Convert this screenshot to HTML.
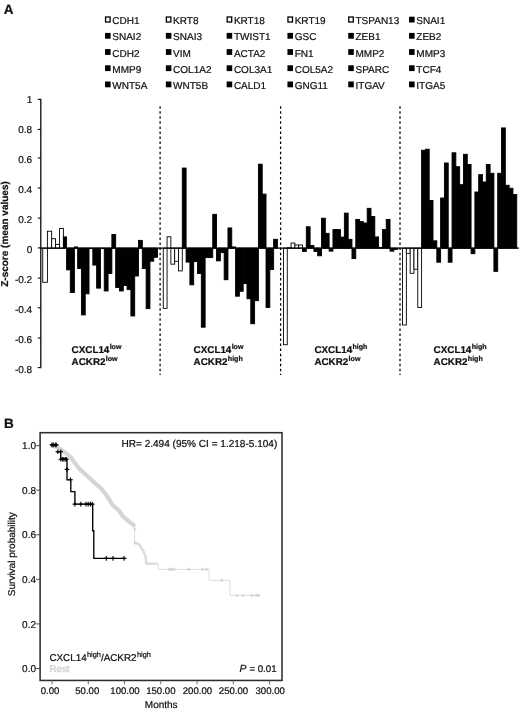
<!DOCTYPE html><html><head><meta charset="utf-8"><title>Figure</title>
<style>html,body{margin:0;padding:0;background:#fff}svg{display:block}text{text-rendering:geometricPrecision;font-family:"Liberation Sans",sans-serif;fill:#111;stroke:#111;stroke-width:0.22px}</style></head><body>
<svg width="520" height="711" viewBox="0 0 520 711">
<rect width="520" height="711" fill="#fff"/>
<text x="3.8" y="14.3" font-size="13.5" font-weight="bold">A</text>
<text x="3.9" y="427.5" font-size="13.5" font-weight="bold">B</text>
<rect x="105.55" y="17.00" width="4.55" height="5" fill="#fff" stroke="#000" stroke-width="1.3"/>
<text x="112.30" y="24.20" font-size="10">CDH1</text>
<rect x="166.35" y="17.00" width="4.55" height="5" fill="#fff" stroke="#000" stroke-width="1.3"/>
<text x="173.10" y="24.20" font-size="10">KRT8</text>
<rect x="227.15" y="17.00" width="4.55" height="5" fill="#fff" stroke="#000" stroke-width="1.3"/>
<text x="233.90" y="24.20" font-size="10">KRT18</text>
<rect x="287.95" y="17.00" width="4.55" height="5" fill="#fff" stroke="#000" stroke-width="1.3"/>
<text x="294.70" y="24.20" font-size="10">KRT19</text>
<rect x="348.75" y="17.00" width="4.55" height="5" fill="#fff" stroke="#000" stroke-width="1.3"/>
<text x="355.50" y="24.20" font-size="10">TSPAN13</text>
<rect x="409.05" y="16.70" width="5.55" height="5.8" fill="#000"/>
<text x="416.30" y="24.20" font-size="10">SNAI1</text>
<rect x="105.05" y="32.90" width="5.55" height="5.8" fill="#000"/>
<text x="112.30" y="40.40" font-size="10">SNAI2</text>
<rect x="165.85" y="32.90" width="5.55" height="5.8" fill="#000"/>
<text x="173.10" y="40.40" font-size="10">SNAI3</text>
<rect x="226.65" y="32.90" width="5.55" height="5.8" fill="#000"/>
<text x="233.90" y="40.40" font-size="10">TWIST1</text>
<rect x="287.45" y="32.90" width="5.55" height="5.8" fill="#000"/>
<text x="294.70" y="40.40" font-size="10">GSC</text>
<rect x="348.25" y="32.90" width="5.55" height="5.8" fill="#000"/>
<text x="355.50" y="40.40" font-size="10">ZEB1</text>
<rect x="409.05" y="32.90" width="5.55" height="5.8" fill="#000"/>
<text x="416.30" y="40.40" font-size="10">ZEB2</text>
<rect x="105.05" y="49.10" width="5.55" height="5.8" fill="#000"/>
<text x="112.30" y="56.60" font-size="10">CDH2</text>
<rect x="165.85" y="49.10" width="5.55" height="5.8" fill="#000"/>
<text x="173.10" y="56.60" font-size="10">VIM</text>
<rect x="226.65" y="49.10" width="5.55" height="5.8" fill="#000"/>
<text x="233.90" y="56.60" font-size="10">ACTA2</text>
<rect x="287.45" y="49.10" width="5.55" height="5.8" fill="#000"/>
<text x="294.70" y="56.60" font-size="10">FN1</text>
<rect x="348.25" y="49.10" width="5.55" height="5.8" fill="#000"/>
<text x="355.50" y="56.60" font-size="10">MMP2</text>
<rect x="409.05" y="49.10" width="5.55" height="5.8" fill="#000"/>
<text x="416.30" y="56.60" font-size="10">MMP3</text>
<rect x="105.05" y="65.30" width="5.55" height="5.8" fill="#000"/>
<text x="112.30" y="72.80" font-size="10">MMP9</text>
<rect x="165.85" y="65.30" width="5.55" height="5.8" fill="#000"/>
<text x="173.10" y="72.80" font-size="10">COL1A2</text>
<rect x="226.65" y="65.30" width="5.55" height="5.8" fill="#000"/>
<text x="233.90" y="72.80" font-size="10">COL3A1</text>
<rect x="287.45" y="65.30" width="5.55" height="5.8" fill="#000"/>
<text x="294.70" y="72.80" font-size="10">COL5A2</text>
<rect x="348.25" y="65.30" width="5.55" height="5.8" fill="#000"/>
<text x="355.50" y="72.80" font-size="10">SPARC</text>
<rect x="409.05" y="65.30" width="5.55" height="5.8" fill="#000"/>
<text x="416.30" y="72.80" font-size="10">TCF4</text>
<rect x="105.05" y="81.50" width="5.55" height="5.8" fill="#000"/>
<text x="112.30" y="89.00" font-size="10">WNT5A</text>
<rect x="165.85" y="81.50" width="5.55" height="5.8" fill="#000"/>
<text x="173.10" y="89.00" font-size="10">WNT5B</text>
<rect x="226.65" y="81.50" width="5.55" height="5.8" fill="#000"/>
<text x="233.90" y="89.00" font-size="10">CALD1</text>
<rect x="287.45" y="81.50" width="5.55" height="5.8" fill="#000"/>
<text x="294.70" y="89.00" font-size="10">GNG11</text>
<rect x="348.25" y="81.50" width="5.55" height="5.8" fill="#000"/>
<text x="355.50" y="89.00" font-size="10">ITGAV</text>
<rect x="409.05" y="81.50" width="5.55" height="5.8" fill="#000"/>
<text x="416.30" y="89.00" font-size="10">ITGA5</text>
<g stroke="#000" stroke-width="0.9">
<rect x="42.75" y="248.15" width="4.661" height="34.13" fill="#fff"/>
<rect x="47.41" y="231.23" width="4.256" height="16.92" fill="#fff"/>
<rect x="51.67" y="238.72" width="3.906" height="9.43" fill="#fff"/>
<rect x="55.57" y="244.41" width="4.006" height="3.74" fill="#fff"/>
<rect x="59.58" y="228.54" width="3.806" height="19.61" fill="#fff"/>
<rect x="63.39" y="236.92" width="3.206" height="11.23" fill="#000"/>
<rect x="66.59" y="248.15" width="3.706" height="21.71" fill="#000"/>
<rect x="70.30" y="248.15" width="4.106" height="44.31" fill="#000"/>
<rect x="74.41" y="246.95" width="3.256" height="1.20" fill="#000"/>
<rect x="77.66" y="248.15" width="3.756" height="20.36" fill="#000"/>
<rect x="81.42" y="248.15" width="3.806" height="66.77" fill="#000"/>
<rect x="85.22" y="248.15" width="3.806" height="45.66" fill="#000"/>
<rect x="89.03" y="248.15" width="3.806" height="0.45" fill="#000"/>
<rect x="92.84" y="248.15" width="3.806" height="16.92" fill="#000"/>
<rect x="96.64" y="248.15" width="3.806" height="39.97" fill="#000"/>
<rect x="100.45" y="248.15" width="3.806" height="0.45" fill="#000"/>
<rect x="104.26" y="248.15" width="3.806" height="42.81" fill="#000"/>
<rect x="108.06" y="248.15" width="3.806" height="25.30" fill="#000"/>
<rect x="111.87" y="234.53" width="3.806" height="13.62" fill="#000"/>
<rect x="115.68" y="248.15" width="3.806" height="39.37" fill="#000"/>
<rect x="119.48" y="248.15" width="3.806" height="42.81" fill="#000"/>
<rect x="123.29" y="248.15" width="3.806" height="37.28" fill="#000"/>
<rect x="127.09" y="248.15" width="3.806" height="41.47" fill="#000"/>
<rect x="130.90" y="248.15" width="3.806" height="67.81" fill="#000"/>
<rect x="134.71" y="248.15" width="3.806" height="27.84" fill="#000"/>
<rect x="138.51" y="240.37" width="3.806" height="7.78" fill="#000"/>
<rect x="142.32" y="248.15" width="3.806" height="20.36" fill="#000"/>
<rect x="146.13" y="248.15" width="3.806" height="60.48" fill="#000"/>
<rect x="149.93" y="248.15" width="3.806" height="13.02" fill="#000"/>
<rect x="153.74" y="248.15" width="3.806" height="9.13" fill="#000"/>
<rect x="163.25" y="248.15" width="3.806" height="60.18" fill="#fff"/>
<rect x="167.06" y="236.77" width="3.806" height="11.38" fill="#fff"/>
<rect x="170.87" y="248.15" width="3.806" height="16.02" fill="#fff"/>
<rect x="174.67" y="248.15" width="3.806" height="13.17" fill="#fff"/>
<rect x="178.48" y="248.15" width="3.806" height="22.75" fill="#fff"/>
<rect x="182.29" y="168.06" width="3.806" height="80.09" fill="#000"/>
<rect x="186.09" y="248.15" width="3.806" height="13.92" fill="#000"/>
<rect x="189.90" y="248.15" width="3.806" height="36.68" fill="#000"/>
<rect x="193.71" y="248.15" width="3.806" height="13.47" fill="#000"/>
<rect x="197.51" y="248.15" width="3.806" height="25.30" fill="#000"/>
<rect x="201.32" y="248.15" width="3.806" height="79.04" fill="#000"/>
<rect x="205.12" y="248.15" width="3.806" height="9.43" fill="#000"/>
<rect x="208.93" y="248.15" width="3.806" height="9.43" fill="#000"/>
<rect x="212.74" y="214.32" width="3.806" height="33.83" fill="#000"/>
<rect x="216.54" y="248.15" width="3.806" height="12.72" fill="#000"/>
<rect x="220.35" y="248.15" width="3.806" height="4.49" fill="#000"/>
<rect x="224.16" y="248.15" width="3.806" height="31.59" fill="#000"/>
<rect x="227.96" y="227.94" width="3.806" height="20.21" fill="#000"/>
<rect x="231.77" y="246.95" width="3.806" height="1.20" fill="#000"/>
<rect x="235.58" y="248.15" width="3.806" height="48.05" fill="#000"/>
<rect x="239.38" y="248.15" width="3.806" height="43.11" fill="#000"/>
<rect x="243.19" y="248.15" width="3.806" height="35.48" fill="#000"/>
<rect x="246.99" y="248.15" width="3.806" height="50.60" fill="#000"/>
<rect x="250.80" y="248.15" width="3.806" height="75.60" fill="#000"/>
<rect x="254.61" y="248.15" width="3.806" height="52.54" fill="#000"/>
<rect x="258.41" y="164.17" width="3.806" height="83.98" fill="#000"/>
<rect x="262.22" y="194.11" width="3.806" height="54.04" fill="#000"/>
<rect x="266.03" y="248.15" width="3.806" height="59.28" fill="#000"/>
<rect x="269.83" y="248.15" width="3.806" height="21.41" fill="#000"/>
<rect x="273.64" y="239.32" width="3.806" height="8.83" fill="#000"/>
<rect x="283.45" y="248.15" width="3.806" height="96.56" fill="#fff"/>
<rect x="287.26" y="247.70" width="3.806" height="0.45" fill="#fff"/>
<rect x="291.07" y="243.06" width="3.806" height="5.09" fill="#fff"/>
<rect x="294.87" y="245.01" width="3.806" height="3.14" fill="#fff"/>
<rect x="298.68" y="245.01" width="3.806" height="3.14" fill="#fff"/>
<rect x="302.49" y="248.15" width="3.806" height="3.29" fill="#000"/>
<rect x="306.29" y="226.74" width="3.806" height="21.41" fill="#000"/>
<rect x="310.10" y="245.46" width="3.806" height="2.69" fill="#000"/>
<rect x="313.91" y="248.15" width="3.806" height="3.29" fill="#000"/>
<rect x="317.71" y="248.15" width="3.806" height="7.63" fill="#000"/>
<rect x="321.52" y="218.21" width="3.806" height="29.94" fill="#000"/>
<rect x="325.32" y="233.33" width="3.806" height="14.82" fill="#000"/>
<rect x="329.13" y="248.15" width="3.806" height="2.99" fill="#000"/>
<rect x="332.94" y="229.59" width="3.806" height="18.56" fill="#000"/>
<rect x="336.74" y="229.59" width="3.806" height="18.56" fill="#000"/>
<rect x="340.55" y="237.07" width="3.806" height="11.08" fill="#000"/>
<rect x="344.36" y="213.12" width="3.806" height="35.03" fill="#000"/>
<rect x="348.16" y="239.32" width="3.806" height="8.83" fill="#000"/>
<rect x="351.97" y="248.15" width="3.806" height="10.48" fill="#000"/>
<rect x="355.78" y="219.41" width="3.806" height="28.74" fill="#000"/>
<rect x="359.58" y="221.65" width="3.806" height="26.50" fill="#000"/>
<rect x="363.39" y="223.00" width="3.806" height="25.15" fill="#000"/>
<rect x="367.19" y="208.33" width="3.806" height="39.82" fill="#000"/>
<rect x="371.00" y="216.56" width="3.806" height="31.59" fill="#000"/>
<rect x="374.81" y="236.92" width="3.806" height="11.23" fill="#000"/>
<rect x="378.61" y="247.40" width="3.806" height="0.75" fill="#000"/>
<rect x="382.42" y="229.59" width="3.806" height="18.56" fill="#000"/>
<rect x="386.23" y="219.41" width="3.806" height="28.74" fill="#000"/>
<rect x="390.03" y="248.15" width="3.806" height="2.99" fill="#000"/>
<rect x="393.84" y="248.15" width="3.806" height="1.20" fill="#000"/>
<rect x="402.55" y="248.15" width="3.806" height="76.80" fill="#fff"/>
<rect x="406.36" y="248.15" width="3.806" height="5.24" fill="#fff"/>
<rect x="410.17" y="248.15" width="3.806" height="25.15" fill="#fff"/>
<rect x="413.97" y="248.15" width="3.806" height="21.11" fill="#fff"/>
<rect x="417.78" y="248.15" width="3.806" height="59.28" fill="#fff"/>
<rect x="421.59" y="150.25" width="3.806" height="97.90" fill="#000"/>
<rect x="425.39" y="149.20" width="3.806" height="98.95" fill="#000"/>
<rect x="429.20" y="200.55" width="3.806" height="47.60" fill="#000"/>
<rect x="433.01" y="240.81" width="3.806" height="7.34" fill="#000"/>
<rect x="436.81" y="248.15" width="3.806" height="14.07" fill="#000"/>
<rect x="440.62" y="198.00" width="3.806" height="50.15" fill="#000"/>
<rect x="444.42" y="162.97" width="3.806" height="85.18" fill="#000"/>
<rect x="448.23" y="248.15" width="3.806" height="14.07" fill="#000"/>
<rect x="452.04" y="152.79" width="3.806" height="95.36" fill="#000"/>
<rect x="455.84" y="166.71" width="3.806" height="81.44" fill="#000"/>
<rect x="459.65" y="184.68" width="3.806" height="63.47" fill="#000"/>
<rect x="463.46" y="154.29" width="3.806" height="93.86" fill="#000"/>
<rect x="467.26" y="164.47" width="3.806" height="83.68" fill="#000"/>
<rect x="471.07" y="248.15" width="3.806" height="5.54" fill="#000"/>
<rect x="474.88" y="192.01" width="3.806" height="56.14" fill="#000"/>
<rect x="478.68" y="174.65" width="3.806" height="73.50" fill="#000"/>
<rect x="482.49" y="181.98" width="3.806" height="66.17" fill="#000"/>
<rect x="486.29" y="164.47" width="3.806" height="83.68" fill="#000"/>
<rect x="490.10" y="173.30" width="3.806" height="74.85" fill="#000"/>
<rect x="493.91" y="248.15" width="3.806" height="23.20" fill="#000"/>
<rect x="497.71" y="173.30" width="3.806" height="74.85" fill="#000"/>
<rect x="501.52" y="127.94" width="3.806" height="120.21" fill="#000"/>
<rect x="505.33" y="185.28" width="3.806" height="62.87" fill="#000"/>
<rect x="509.13" y="188.27" width="3.806" height="59.88" fill="#000"/>
<rect x="512.94" y="194.56" width="3.806" height="53.59" fill="#000"/>
</g>
<line x1="40.8" y1="98.85" x2="40.8" y2="368.15" stroke="#000" stroke-width="1.25"/>
<line x1="40.2" y1="248.15" x2="519" y2="248.15" stroke="#000" stroke-width="1.25"/>
<line x1="37.8" y1="99.40" x2="40.5" y2="99.40" stroke="#000" stroke-width="1.1"/>
<text x="32.2" y="103.10" font-size="10" text-anchor="end">1</text>
<line x1="37.8" y1="129.40" x2="40.5" y2="129.40" stroke="#000" stroke-width="1.1"/>
<text x="32.2" y="133.06" font-size="10" text-anchor="end">0.8</text>
<line x1="37.8" y1="158.00" x2="40.5" y2="158.00" stroke="#000" stroke-width="1.1"/>
<text x="32.2" y="163.02" font-size="10" text-anchor="end">0.6</text>
<line x1="37.8" y1="188.00" x2="40.5" y2="188.00" stroke="#000" stroke-width="1.1"/>
<text x="32.2" y="192.98" font-size="10" text-anchor="end">0.4</text>
<line x1="37.8" y1="218.10" x2="40.5" y2="218.10" stroke="#000" stroke-width="1.1"/>
<text x="32.2" y="222.94" font-size="10" text-anchor="end">0.2</text>
<line x1="37.8" y1="247.90" x2="40.5" y2="247.90" stroke="#000" stroke-width="1.1"/>
<text x="32.2" y="252.90" font-size="10" text-anchor="end">0</text>
<line x1="37.8" y1="278.10" x2="40.5" y2="278.10" stroke="#000" stroke-width="1.1"/>
<text x="32.2" y="282.86" font-size="10" text-anchor="end">-0.2</text>
<line x1="37.8" y1="307.80" x2="40.5" y2="307.80" stroke="#000" stroke-width="1.1"/>
<text x="32.2" y="312.82" font-size="10" text-anchor="end">-0.4</text>
<line x1="37.8" y1="338.00" x2="40.5" y2="338.00" stroke="#000" stroke-width="1.1"/>
<text x="32.2" y="342.78" font-size="10" text-anchor="end">-0.6</text>
<line x1="37.8" y1="367.60" x2="40.5" y2="367.60" stroke="#000" stroke-width="1.1"/>
<text x="32.2" y="372.74" font-size="10" text-anchor="end">-0.8</text>
<line x1="160.1" y1="106.2" x2="160.1" y2="375.1" stroke="#000" stroke-width="1.25" stroke-dasharray="2.5 2.55"/>
<line x1="280.6" y1="106.2" x2="280.6" y2="375.1" stroke="#000" stroke-width="1.25" stroke-dasharray="2.5 2.55"/>
<line x1="400.0" y1="106.2" x2="400.0" y2="375.1" stroke="#000" stroke-width="1.25" stroke-dasharray="2.5 2.55"/>
<text transform="translate(8.4,234) rotate(-90)" font-size="10" font-weight="bold" text-anchor="middle">Z-score (mean values)</text>
<text x="71.6" y="353.4" font-size="9.85" font-weight="bold">CXCL14<tspan font-size="7.1" dy="-4.0" dx="0.3">low</tspan></text>
<text x="71.6" y="365.3" font-size="9.85" font-weight="bold">ACKR2<tspan font-size="7.1" dy="-4.0" dx="0.3">low</tspan></text>
<text x="193.6" y="353.4" font-size="9.85" font-weight="bold">CXCL14<tspan font-size="7.1" dy="-4.0" dx="0.3">low</tspan></text>
<text x="193.6" y="365.3" font-size="9.85" font-weight="bold">ACKR2<tspan font-size="7.1" dy="-4.0" dx="0.3">high</tspan></text>
<text x="314.4" y="353.4" font-size="9.85" font-weight="bold">CXCL14<tspan font-size="7.1" dy="-4.0" dx="0.3">high</tspan></text>
<text x="314.4" y="365.3" font-size="9.85" font-weight="bold">ACKR2<tspan font-size="7.1" dy="-4.0" dx="0.3">low</tspan></text>
<text x="433.6" y="353.4" font-size="9.85" font-weight="bold">CXCL14<tspan font-size="7.1" dy="-4.0" dx="0.3">high</tspan></text>
<text x="433.6" y="365.3" font-size="9.85" font-weight="bold">ACKR2<tspan font-size="7.1" dy="-4.0" dx="0.3">high</tspan></text>
<rect x="40.1" y="432.7" width="241.9" height="247.75000000000006" fill="none" stroke="#2e2e2e" stroke-width="1.55"/>
<line x1="36.2" y1="668.50" x2="40.1" y2="668.50" stroke="#3a3a3a" stroke-width="0.9"/>
<text x="36.0" y="672.10" font-size="10" text-anchor="end">0.0</text>
<line x1="36.2" y1="623.92" x2="40.1" y2="623.92" stroke="#3a3a3a" stroke-width="0.9"/>
<text x="36.0" y="627.52" font-size="10" text-anchor="end">0.2</text>
<line x1="36.2" y1="579.34" x2="40.1" y2="579.34" stroke="#3a3a3a" stroke-width="0.9"/>
<text x="36.0" y="582.94" font-size="10" text-anchor="end">0.4</text>
<line x1="36.2" y1="534.76" x2="40.1" y2="534.76" stroke="#3a3a3a" stroke-width="0.9"/>
<text x="36.0" y="538.36" font-size="10" text-anchor="end">0.6</text>
<line x1="36.2" y1="490.18" x2="40.1" y2="490.18" stroke="#3a3a3a" stroke-width="0.9"/>
<text x="36.0" y="493.78" font-size="10" text-anchor="end">0.8</text>
<line x1="36.2" y1="445.60" x2="40.1" y2="445.60" stroke="#3a3a3a" stroke-width="0.9"/>
<text x="36.0" y="449.20" font-size="10" text-anchor="end">1.0</text>
<line x1="52.00" y1="680.45" x2="52.00" y2="684.4" stroke="#555" stroke-width="0.85"/>
<text x="50.00" y="694.1" font-size="9.6" text-anchor="middle">0.00</text>
<line x1="88.27" y1="680.45" x2="88.27" y2="684.4" stroke="#555" stroke-width="0.85"/>
<text x="87.30" y="694.1" font-size="9.6" text-anchor="middle">50.00</text>
<line x1="124.53" y1="680.45" x2="124.53" y2="684.4" stroke="#555" stroke-width="0.85"/>
<text x="125.00" y="694.1" font-size="9.6" text-anchor="middle">100.00</text>
<line x1="160.79" y1="680.45" x2="160.79" y2="684.4" stroke="#555" stroke-width="0.85"/>
<text x="160.80" y="694.1" font-size="9.6" text-anchor="middle">150.00</text>
<line x1="197.06" y1="680.45" x2="197.06" y2="684.4" stroke="#555" stroke-width="0.85"/>
<text x="197.40" y="694.1" font-size="9.6" text-anchor="middle">200.00</text>
<line x1="233.32" y1="680.45" x2="233.32" y2="684.4" stroke="#555" stroke-width="0.85"/>
<text x="233.50" y="694.1" font-size="9.6" text-anchor="middle">250.00</text>
<line x1="269.59" y1="680.45" x2="269.59" y2="684.4" stroke="#555" stroke-width="0.85"/>
<text x="270.20" y="694.1" font-size="9.6" text-anchor="middle">300.00</text>
<text transform="translate(15.3,554.2) rotate(-90)" font-size="10" text-anchor="middle">Survival probability</text>
<text x="161.2" y="707.7" font-size="10" text-anchor="middle">Months</text>
<text x="277.3" y="446.5" font-size="10.05" text-anchor="end">HR= 2.494 (95% CI = 1.218-5.104)</text>
<text x="49.4" y="660.6" font-size="9.9">CXCL14<tspan font-size="7.4" dy="-3.4" dx="0.2">high</tspan><tspan dy="3.4">/ACKR2</tspan><tspan font-size="7.4" dy="-3.4" dx="0.3">high</tspan></text>
<text x="49.4" y="672.1" font-size="9.8" style="fill:#ccc;stroke:#ccc">Rest</text>
<text x="239.4" y="671.6" font-size="10.3" font-style="italic">P</text>
<text x="276.6" y="671.6" font-size="9.7" text-anchor="end">= 0.01</text>
<polyline fill="none" stroke="#d5d5d5" stroke-width="4.2" stroke-linejoin="round" stroke-linecap="round" points="52,445.6 57.3,447.0 62.5,450.7 67.7,454.5 72,458.8 75.5,464.0 78.9,468.3 83.3,472.5 88.4,476.9 91.9,480.3 96.2,484.4 100.6,487.9 104.8,492.9 108.65,498.5 112.5,505 118.3,509.8 123.1,516.5 128.85,521.3 133.65,525.2"/>
<path fill="none" stroke="#dadada" stroke-width="0.9" d="M133.6,525.2 H134.6 V543.1 H135.6"/>
<polyline fill="none" stroke="#dadada" stroke-width="2.4" stroke-linejoin="round" stroke-linecap="round" points="135.6,542.8 139.4,544.6 143.3,551.2 145.8,556.9 146.15,563.65"/>
<path fill="none" stroke="#dadada" stroke-width="2.4" stroke-linecap="round" d="M147,563.65 H156.5"/>
<path fill="none" stroke="#dadada" stroke-width="0.9" d="M146.15,563.65 H158.3 V569.4 H209.2 V580.4 H230 V595.4 H259.2"/>
<path d="M167.50,569.40 H170.90 M169.20,567.70 V571.10" stroke="#d2d2d2" stroke-width="1.3" fill="none"/>
<path d="M169.80,569.40 H173.20 M171.50,567.70 V571.10" stroke="#d2d2d2" stroke-width="1.3" fill="none"/>
<path d="M172.30,569.40 H175.70 M174.00,567.70 V571.10" stroke="#d2d2d2" stroke-width="1.3" fill="none"/>
<path d="M187.15,569.40 H190.55 M188.85,567.70 V571.10" stroke="#d2d2d2" stroke-width="1.3" fill="none"/>
<path d="M200.80,569.40 H204.20 M202.50,567.70 V571.10" stroke="#d2d2d2" stroke-width="1.3" fill="none"/>
<path d="M204.60,569.40 H208.00 M206.30,567.70 V571.10" stroke="#d2d2d2" stroke-width="1.3" fill="none"/>
<path d="M220.00,580.40 H223.40 M221.70,578.70 V582.10" stroke="#d2d2d2" stroke-width="1.3" fill="none"/>
<path d="M235.40,595.40 H238.80 M237.10,593.70 V597.10" stroke="#d2d2d2" stroke-width="1.3" fill="none"/>
<path d="M241.20,595.40 H244.60 M242.90,593.70 V597.10" stroke="#d2d2d2" stroke-width="1.3" fill="none"/>
<path d="M250.20,595.40 H253.60 M251.90,593.70 V597.10" stroke="#d2d2d2" stroke-width="1.3" fill="none"/>
<path d="M254.60,595.40 H258.00 M256.30,593.70 V597.10" stroke="#d2d2d2" stroke-width="1.3" fill="none"/>
<path d="M256.90,595.40 H260.30 M258.60,593.70 V597.10" stroke="#d2d2d2" stroke-width="1.3" fill="none"/>
<path d="M132.90,529.00 H136.30 M134.60,527.30 V530.70" stroke="#d6d6d6" stroke-width="1.1" fill="none"/>
<path d="M133.50,543.10 H136.90 M135.20,541.40 V544.80" stroke="#d6d6d6" stroke-width="1.1" fill="none"/>
<path fill="none" stroke="#000" stroke-width="1.35" d="M50.6,444.9 H57.6 M56.6,451.8 H60.7 V459.2 H67.0 V479.8 H70.8 V491.6 H74.9 V504.1 H92.7 V530.7 H93.8 V558.4 H124.2"/>
<path d="M49.70,444.90 H54.30 M52.00,442.60 V447.20" stroke="#000" stroke-width="1.1" fill="none"/>
<path d="M50.90,444.90 H55.50 M53.20,442.60 V447.20" stroke="#000" stroke-width="1.1" fill="none"/>
<path d="M52.90,444.90 H57.50 M55.20,442.60 V447.20" stroke="#000" stroke-width="1.1" fill="none"/>
<path d="M53.90,444.90 H58.50 M56.20,442.60 V447.20" stroke="#000" stroke-width="1.1" fill="none"/>
<path d="M55.50,451.80 H60.10 M57.80,449.50 V454.10" stroke="#000" stroke-width="1.1" fill="none"/>
<path d="M58.40,451.80 H63.00 M60.70,449.50 V454.10" stroke="#000" stroke-width="1.1" fill="none"/>
<path d="M58.50,459.20 H63.10 M60.80,456.90 V461.50" stroke="#000" stroke-width="1.1" fill="none"/>
<path d="M60.00,459.20 H64.60 M62.30,456.90 V461.50" stroke="#000" stroke-width="1.1" fill="none"/>
<path d="M61.50,459.20 H66.10 M63.80,456.90 V461.50" stroke="#000" stroke-width="1.1" fill="none"/>
<path d="M62.90,459.20 H67.50 M65.20,456.90 V461.50" stroke="#000" stroke-width="1.1" fill="none"/>
<path d="M64.10,459.20 H68.70 M66.40,456.90 V461.50" stroke="#000" stroke-width="1.1" fill="none"/>
<path d="M64.70,469.40 H69.30 M67.00,467.10 V471.70" stroke="#000" stroke-width="1.1" fill="none"/>
<path d="M68.20,479.80 H72.80 M70.50,477.50 V482.10" stroke="#000" stroke-width="1.1" fill="none"/>
<path d="M72.60,504.10 H77.20 M74.90,501.80 V506.40" stroke="#000" stroke-width="1.1" fill="none"/>
<path d="M78.50,504.10 H83.10 M80.80,501.80 V506.40" stroke="#000" stroke-width="1.1" fill="none"/>
<path d="M83.70,504.10 H88.30 M86.00,501.80 V506.40" stroke="#000" stroke-width="1.1" fill="none"/>
<path d="M85.90,504.10 H90.50 M88.20,501.80 V506.40" stroke="#000" stroke-width="1.1" fill="none"/>
<path d="M88.10,504.10 H92.70 M90.40,501.80 V506.40" stroke="#000" stroke-width="1.1" fill="none"/>
<path d="M89.90,504.10 H94.50 M92.20,501.80 V506.40" stroke="#000" stroke-width="1.1" fill="none"/>
<path d="M104.00,558.40 H108.60 M106.30,556.10 V560.70" stroke="#000" stroke-width="1.1" fill="none"/>
<path d="M110.70,558.40 H115.30 M113.00,556.10 V560.70" stroke="#000" stroke-width="1.1" fill="none"/>
<path d="M121.80,558.40 H126.40 M124.10,556.10 V560.70" stroke="#000" stroke-width="1.1" fill="none"/>
</svg></body></html>
